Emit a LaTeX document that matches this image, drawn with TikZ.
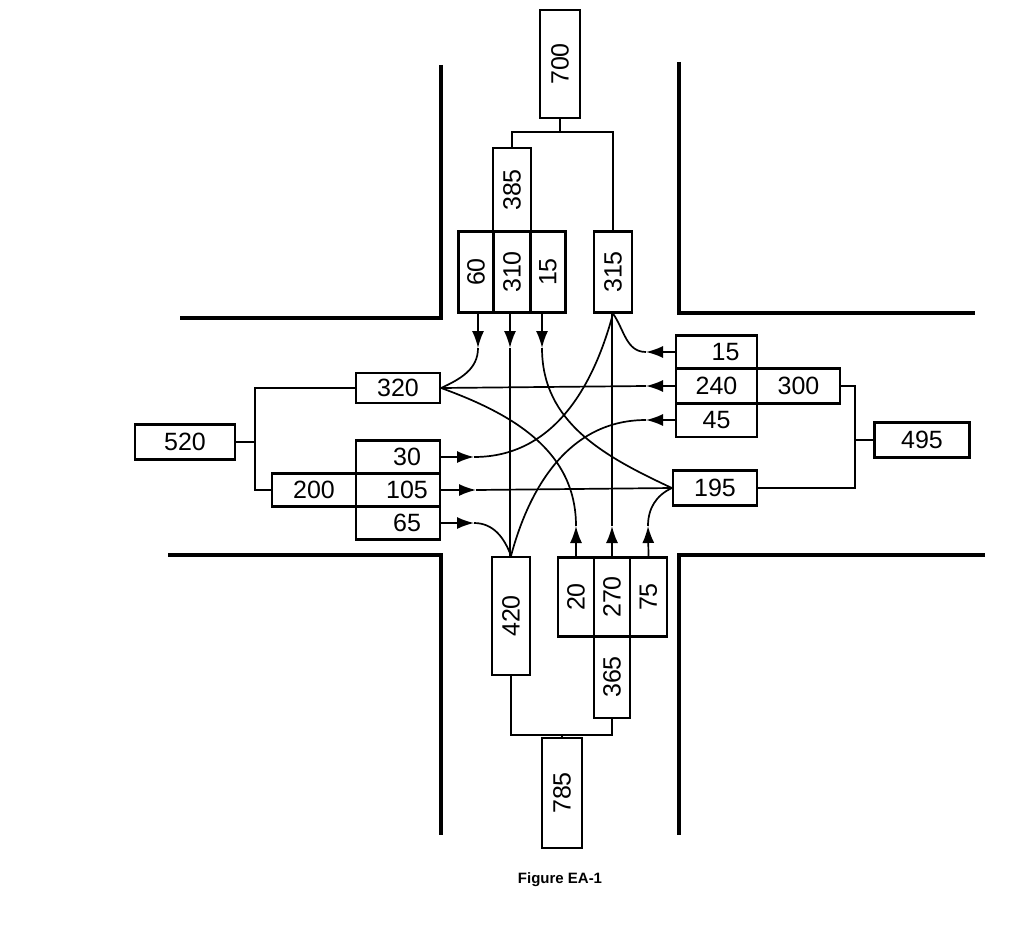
\documentclass[tikz,border=0pt]{standalone}
\usepackage{fontspec}
\setmainfont{Liberation Sans}
\usetikzlibrary{arrows.meta}
\begin{document}
\begin{tikzpicture}[x=1pt,y=-1pt,
  box/.style={draw,line width=2.2pt,inner sep=0pt,font=\fontsize{25}{25}\selectfont},
  vbox/.style={draw,line width=2.2pt,inner sep=0pt},
  vtxt/.style={rotate=90,font=\fontsize{25}{25}\selectfont,inner sep=0pt},
  conn/.style={line width=1.7pt},
  street/.style={line width=3.5pt},
  arr/.style={line width=1.7pt,-{Latex[length=17pt,width=12pt]}}]
\useasboundingbox (0,0) rectangle (1024,936);
% streets
\draw[street] (441,65) -- (441,318) -- (180,318);
\draw[street] (679,62) -- (679,313) -- (975,313);
\draw[street] (168,555) -- (441,555) -- (441,835);
\draw[street] (985,555) -- (679,555) -- (679,835);
% north
\node[vbox,minimum width=40pt,minimum height=108pt] (n700) at (560,64) {};
\node[vtxt] at (n700) {700};
\node[vbox,minimum width=38pt,minimum height=84pt] (n385) at (512,190) {};
\node[vtxt] at (n385) {385};
\node[vbox,minimum width=35pt,minimum height=81pt] (n60) at (476,272) {};
\node[vtxt] at (n60) {60};
\node[vbox,minimum width=38pt,minimum height=81pt] (n310) at (512,272) {};
\node[vtxt] at (n310) {310};
\node[vbox,minimum width=35pt,minimum height=81pt] (n15) at (548,272) {};
\node[vtxt] at (n15) {15};
\node[vbox,minimum width=38pt,minimum height=81pt] (n315) at (613,272) {};
\node[vtxt] at (n315) {315};
\coordinate (tj) at (560,132);
\draw[conn] (n385.north) |- (tj) -| (n315.north);
\draw[conn] (n700.south) -- (tj);
% south
\node[vbox,minimum width=38pt,minimum height=118pt] (s420) at (511,616) {};
\node[vtxt] at (s420) {420};
\node[vbox,minimum width=36pt,minimum height=79pt] (s20) at (576,597) {};
\node[vtxt] at (s20) {20};
\node[vbox,minimum width=36pt,minimum height=79pt] (s270) at (612,597) {};
\node[vtxt] at (s270) {270};
\node[vbox,minimum width=37pt,minimum height=79pt] (s75) at (648.5,597) {};
\node[vtxt] at (s75) {75};
\node[vbox,minimum width=36pt,minimum height=82pt] (s365) at (612,677) {};
\node[vtxt] at (s365) {365};
\node[vbox,minimum width=40pt,minimum height=110pt] (s785) at (562,793) {};
\node[vtxt] at (s785) {785};
\coordinate (bj) at (562,735);
\draw[conn] (s420.south) |- (bj) -| (s365.south);
\draw[conn] (s785.north) -- (bj);
% west
\node[box,minimum width=100pt,minimum height=35pt] (w520) at (185,442) {520};
\node[box,minimum width=84pt,minimum height=30pt] (w320) at (398,388) {320};
\node[box,minimum width=84pt,minimum height=33pt] (w30) at (398,457) {\hspace*{18pt}30};
\node[box,minimum width=84pt,minimum height=33pt] (w105) at (398,490) {\hspace*{18pt}105};
\node[box,minimum width=84pt,minimum height=33pt] (w65) at (398,523) {\hspace*{18pt}65};
\node[box,minimum width=84pt,minimum height=33pt] (w200) at (314,490) {200};
\coordinate (lj) at (255,442);
\draw[conn] (w320.west) -| (lj) |- (w200.west);
\draw[conn] (w520.east) -- (lj);
% east
\node[box,minimum width=81pt,minimum height=33pt] (e15) at (716.5,352) {\hspace*{18pt}15};
\node[box,minimum width=81pt,minimum height=35pt] (e240) at (716.5,386) {240};
\node[box,minimum width=81pt,minimum height=34pt] (e45) at (716.5,420) {45};
\node[box,minimum width=83pt,minimum height=35pt] (e300) at (798.5,386) {300};
\node[box,minimum width=84pt,minimum height=35pt] (e195) at (715,488) {195};
\node[box,minimum width=95pt,minimum height=35pt] (e495) at (922,440) {495};
\coordinate (rj) at (855,440);
\draw[conn] (e300.east) -| (rj) |- (e195.east);
\draw[conn] (e495.west) -- (rj);
% arrow points
\coordinate (a60) at (478,348);
\coordinate (a310) at (510,348);
\coordinate (a15) at (542,348);
\coordinate (b15) at (646,352);
\coordinate (b240) at (646,386);
\coordinate (b45) at (646,420);
\coordinate (c30) at (474,457);
\coordinate (c105) at (476,490);
\coordinate (c65) at (474,523);
\coordinate (d20) at (576,526);
\coordinate (d270) at (612,526);
\coordinate (d75) at (648,526);
\draw[arr] (n60.south -| a60) -- (a60);
\draw[arr] (n310.south -| a310) -- (a310);
\draw[arr] (n15.south -| a15) -- (a15);
\draw[arr] (e15.west) -- (b15);
\draw[arr] (e240.west) -- (b240);
\draw[arr] (e45.west) -- (b45);
\draw[arr] (w30.east) -- (c30);
\draw[arr] (w105.east) -- (c105);
\draw[arr] (w65.east) -- (c65);
\draw[arr] (s20.north) -- (d20);
\draw[arr] (s270.north) -- (d270);
\draw[arr] (s75.north) -- (d75);
% movements
\draw[conn] (a60) to[out=-90,in=25] (w320.east);
\draw[conn] (a310) -- (a310 |- s420.north);
\draw[conn] (a15) to[out=-90,in=155] (e195.west);
\draw[conn] (b15) to[out=180,in=-55] (n315.south);
\draw[conn] (b240) -- (w320.east);
\draw[conn] (b45) to[out=180,in=75] (s420.north);
\draw[conn] (c30) to[out=0,in=-105] (n315.south);
\draw[conn] (c105) -- (e195.west);
\draw[conn] (c65) to[out=0,in=110] (s420.north);
\draw[conn] (w320.east) to[out=-20,in=90] (d20);
\draw[conn] (d270) -- (d270 |- n315.south);
\draw[conn] (d75) to[out=90,in=-155] (e195.west);
% caption
\node[font=\fontsize{15}{15}\selectfont\bfseries] (cap) at (560,880) {Figure EA-1};
\end{tikzpicture}
\end{document}
